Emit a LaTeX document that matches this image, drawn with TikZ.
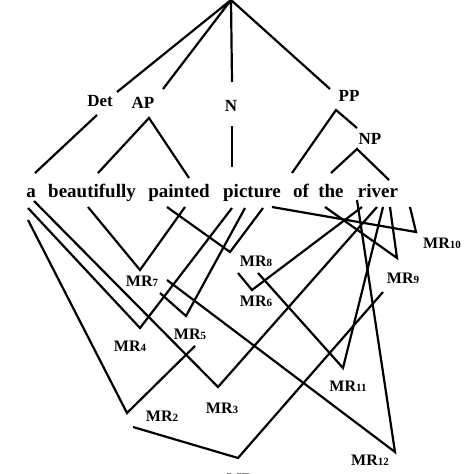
\documentclass[tikz,border=0pt]{standalone}
\usepackage{fontspec}
\setmainfont{Liberation Serif}
\newcommand\mrlabel[1]{MR{\fontsize{11}{12}\selectfont #1}}

\begin{document}
\begin{tikzpicture}[x=1pt, y=-1pt, line width=2.2pt,
  word/.style={font=\bfseries\fontsize{19}{22}\selectfont, anchor=base, inner sep=0pt},
  cat/.style={font=\bfseries\fontsize{17}{19}\selectfont, inner sep=0pt},
  mr/.style={font=\bfseries\fontsize{16}{18}\selectfont, inner sep=0pt}]
  \useasboundingbox[fill=white] (0,0) rectangle (474,474);

  % sentence
  \node[word] (w1) at (31,197) {a};
  \node[word] (w2) at (92,197) {beautifully};
  \node[word] (w3) at (179,197) {painted};
  \node[word] (w4) at (252,197) {picture};
  \node[word] (w5) at (301,197) {of};
  \node[word] (w6) at (331,197) {the};
  \node[word] (w7) at (378,197) {river};

  % phrase labels
  \node[cat] (det) at (100,101) {Det};
  \node[cat] (ap) at (143,103) {AP};
  \node[cat] (n) at (231,106) {N};
  \node[cat] (pp) at (349,96) {PP};
  \node[cat] (np) at (370,139) {NP};

  \coordinate (root) at (231,0);
  \coordinate (detT) at (117,92);
  \coordinate (apT) at (163,89);
  \coordinate (nT) at (232,82);
  \coordinate (ppT) at (330,89);
  \coordinate (detB) at (97,115);
  \coordinate (apB) at (149,118);
  \coordinate (nB) at (232,126);
  \coordinate (ppB) at (336,110);
  \coordinate (npT) at (357,128);
  \coordinate (npB) at (357,149);
  \coordinate (aT) at (35,173);
  \coordinate (beauT) at (98,173);
  \coordinate (paintT) at (189,178);
  \coordinate (picT) at (232,167);
  \coordinate (ofT) at (292,173);
  \coordinate (theT) at (331,173);
  \coordinate (riverT) at (389,180);

  \draw (root) -- (detT) (root) -- (apT) (root) -- (nT) (root) -- (ppT);
  \draw (detB) -- (aT);
  \draw (beauT) -- (apB) -- (paintT);
  \draw (nB) -- (picT);
  \draw (ofT) -- (ppB) -- (npT);
  \draw (theT) -- (npB) -- (riverT);

  % MR labels
  \node[mr] (mr1) at (243,479) {\mrlabel{1}};
  \node[mr] (mr2) at (162,416) {\mrlabel{2}};
  \node[mr] (mr3) at (222,408) {\mrlabel{3}};
  \node[mr] (mr4) at (130,346) {\mrlabel{4}};
  \node[mr] (mr5) at (190,334) {\mrlabel{5}};
  \node[mr] (mr6) at (256,301) {\mrlabel{6}};
  \node[mr] (mr7) at (142,281) {\mrlabel{7}};
  \node[mr] (mr8) at (256,261) {\mrlabel{8}};
  \node[mr] (mr9) at (403,278) {\mrlabel{9}};
  \node[mr] (mr10) at (442,243) {\mrlabel{10}};
  \node[mr] (mr11) at (348,386) {\mrlabel{11}};
  \node[mr] (mr12) at (370,460) {\mrlabel{12}};

  % arms of each MR: left end, vertex, right end
  \coordinate (a1) at (133,427);  \coordinate (v1) at (238,458);  \coordinate (b1) at (383,292);
  \coordinate (a2) at (28,220);   \coordinate (v2) at (127,413);  \coordinate (b2) at (195,346);
  \coordinate (a3) at (34,201);   \coordinate (v3) at (218,387);  \coordinate (b3) at (377,207);
  \coordinate (a4) at (28,208);   \coordinate (v4) at (140,328);  \coordinate (b4) at (232,208);
  \coordinate (a5) at (160,293);  \coordinate (v5) at (186,316);  \coordinate (b5) at (245,208);
  \coordinate (a6) at (238,273);  \coordinate (v6) at (252,290);  \coordinate (b6) at (362,207);
  \coordinate (a7) at (88,207);   \coordinate (v7) at (140,270);  \coordinate (b7) at (185,207);
  \coordinate (a8) at (167,207);  \coordinate (v8) at (230,252);  \coordinate (b8) at (263,208);
  \coordinate (a9) at (325,207);  \coordinate (v9) at (397,258);  \coordinate (b9) at (390,207);
  \coordinate (a10) at (272,207); \coordinate (v10) at (416,232); \coordinate (b10) at (410,207);
  \coordinate (a11) at (258,273); \coordinate (v11) at (343,368); \coordinate (b11) at (383,207);
  \coordinate (a12) at (167,280); \coordinate (v12) at (395,452); \coordinate (b12) at (357,200);

  \foreach \i in {1,...,12}
    \draw (a\i) -- (v\i) -- (b\i);
\end{tikzpicture}
\end{document}
